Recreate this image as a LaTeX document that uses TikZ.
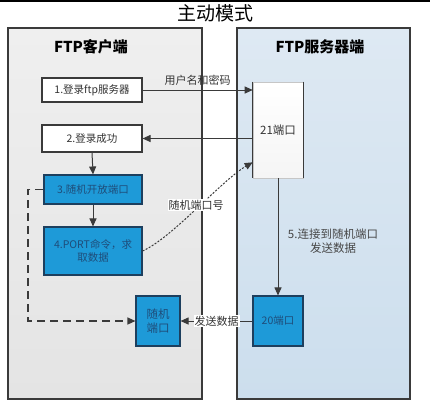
\documentclass[tikz,border=0pt]{standalone}
\usepackage{fontspec}
\setmainfont{Noto Sans CJK SC}
\usetikzlibrary{arrows.meta,calc}
\definecolor{edgec}{HTML}{3A3A3A}
\definecolor{ctop}{HTML}{EFEFEF}
\definecolor{cbot}{HTML}{E4E4E4}
\definecolor{stop}{HTML}{DEE9F3}
\definecolor{sbot}{HTML}{CCDEED}
\definecolor{bluebox}{HTML}{1E9AD8}
\definecolor{blueedge}{HTML}{1D3F5E}
\definecolor{bluetext}{HTML}{1E4D7A}
\definecolor{txt}{HTML}{333333}
\tikzset{
  panel/.style={draw=edgec, line width=1.2pt, inner sep=0pt},
  cpanel/.style={panel, top color=ctop, bottom color=cbot},
  spanel/.style={panel, top color=stop, bottom color=sbot},
  whitebox/.style={draw=edgec, line width=1.1pt, fill=white, inner sep=0pt, text=txt, font=\fontsize{10.5}{12}\selectfont},
  bluebx/.style={draw=blueedge, line width=1.1pt, fill=bluebox, inner sep=0pt, text=bluetext, font=\fontsize{10.5}{13}\selectfont, align=center},
  arr/.style={draw=edgec, line width=1pt, -{Triangle[length=8pt,width=7pt]}},
  dashln/.style={arr, line width=1.2pt, dash pattern=on 8pt off 5pt},
  dotln/.style={arr, line width=1pt, dash pattern=on 2pt off 1.5pt},
  lbl/.style={text=txt, font=\fontsize{11}{13}\selectfont, inner sep=1pt}
}
\begin{document}
\begin{tikzpicture}[x=1pt,y=-1pt]
\useasboundingbox (0,0) rectangle (430,405);
\draw[line width=1.5pt, black] (0,1) -- (430,1);
\node[font=\fontsize{19}{21}\selectfont, text=black] (title) at (215,13) {主动模式};
% panels
\node[cpanel, minimum width=194, minimum height=371] (client) at (105,213.5) {};
\node[spanel, minimum width=173, minimum height=371] (server) at (323.5,213.5) {};
\node[font=\bfseries\fontsize{15}{17}\selectfont, text=black] (clabel) at (91,47) {FTP客户端};
\node[font=\bfseries\fontsize{15}{17}\selectfont, text=black] (slabel) at (320,47) {FTP服务器端};
% client boxes
\node[whitebox, minimum width=100, minimum height=24] (b1) at (92,90) {1.登录ftp服务器};
\node[whitebox, minimum width=100, minimum height=27] (b2) at (92,138.5) {2.登录成功};
\node[bluebx, minimum width=98, minimum height=29] (b3) at (93,189.5) {3.随机开放端口};
\node[bluebx, minimum width=98, minimum height=48] (b4) at (93,251) {4.PORT命令，求\\取数据};
\node[bluebx, minimum width=44, minimum height=50, font=\fontsize{11.5}{14}\selectfont] (rp) at (158,321) {随机\\端口};
% server boxes
\node[draw=gray!45, line width=0.6pt, top color=white, bottom color=gray!8, minimum width=50, minimum height=96, inner sep=0pt, text=txt, font=\fontsize{11.5}{13}\selectfont] (p21) at (278,130) {21端口};
\draw[edgec, line width=1.1pt] (p21.north west) -- (p21.south west);
\draw[edgec, line width=1.1pt] (p21.north east) -- (p21.south east);
\node[bluebx, minimum width=50, minimum height=50] (p20) at (278,321) {20端口};
% connectors
\coordinate (dl) at (28,0);
\coordinate (dotend) at ($(p21.south west)+(0,-16)$);
\draw[arr] (b1.east) -- node[lbl, above=3pt] (l1) {用户名和密码} (b1.east -| p21.west);
\draw[arr] (p21.west |- b2.east) -- (b2.east);
\draw[arr] (b2.south) -- (b3.north);
\draw[arr] (b3.south) -- (b4.north);
\draw[dotln] (b4.east) .. controls (172,238) and (222,180) .. (dotend);
\node[lbl, fill=white] (l2) at (196,205) {随机端口号};
\draw[arr] (p21.south) -- (p20.north);
\node[lbl, align=center, text=txt!90, font=\fontsize{11.5}{14}\selectfont] (l3) at (333,241) {5.连接到随机端口\\发送数据};
\draw[arr] (p20.west) -- node[lbl, fill=white] (l4) {发送数据} (rp.east);
\draw[dashln] (b3.west) -- (b3.west -| dl) |- (rp.west);
\end{tikzpicture}
\end{document}
